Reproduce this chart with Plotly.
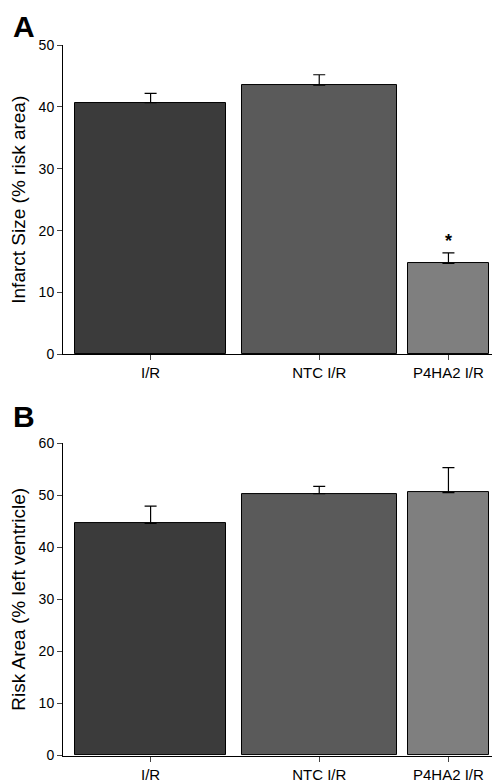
import plotly.graph_objects as go

cats = ["I/R", "NTC I/R", "P4HA2 I/R"]
pos = [0.20, 0.585, 0.88]
widths = [0.345, 0.353, 0.183]
colors = ["#3b3b3b", "#5a5a5a", "#7f7f7f"]
infarct = [40.7, 43.5, 14.7]
infarct_err = [1.5, 1.7, 1.7]
risk = [44.6, 50.3, 50.5]
risk_err = [3.3, 1.4, 4.8]

fig = go.Figure()
for vals, errs, xa, ya in [(infarct, infarct_err, "x", "y"), (risk, risk_err, "x2", "y2")]:
    fig.add_trace(go.Bar(x=pos, y=vals, width=widths, marker=dict(color=colors, line=dict(color="black", width=1)),
                         error_y=dict(type="data", array=errs, arrayminus=[0]*3, color="black", thickness=1.2, width=6),
                         xaxis=xa, yaxis=ya, showlegend=False))
ax = dict(range=[0, 1], tickvals=pos, ticktext=cats, showline=True, linecolor="black", ticks="outside",
          tickfont=dict(family="Liberation Sans", size=15, color="black"), showgrid=False, zeroline=False, domain=[0.11, 0.986])
yax = dict(showline=True, linecolor="black", ticks="outside", showgrid=False, zeroline=False,
           tickfont=dict(family="Liberation Sans", size=14, color="black"))
fig.update_layout(
    width=500, height=780, margin=dict(l=0, r=0, t=0, b=0), plot_bgcolor="white", paper_bgcolor="white", bargap=0,
    xaxis=dict(ax, anchor="y"), xaxis2=dict(ax, anchor="y2"),
    yaxis=dict(yax, range=[0, 50], dtick=10, domain=[0.557, 0.962], anchor="x",
               title=dict(text="Infarct Size (% risk area)", font=dict(family="Liberation Sans", size=19, color="black"), standoff=8)),
    yaxis2=dict(yax, range=[0, 60], dtick=10, domain=[0.032, 0.441], anchor="x2",
                title=dict(text="Risk Area (% left ventricle)", font=dict(family="Liberation Sans", size=19, color="black"), standoff=8)),
    font=dict(family="Liberation Sans"),
)
fig.add_annotation(text="<b>A</b>", x=0.005, y=1.01, xref="paper", yref="paper", xanchor="left", yanchor="top", showarrow=False,
                   font=dict(size=30, color="black"))
fig.add_annotation(text="<b>B</b>", x=0.005, y=0.50, xref="paper", yref="paper", xanchor="left", yanchor="top", showarrow=False,
                   font=dict(size=30, color="black"))
fig.add_annotation(text="<b>*</b>", x=pos[2], y=infarct[2] + infarct_err[2], xref="x", yref="y", yanchor="bottom", showarrow=False,
                   font=dict(size=18, color="black"))
fig.write_html("out.html")
